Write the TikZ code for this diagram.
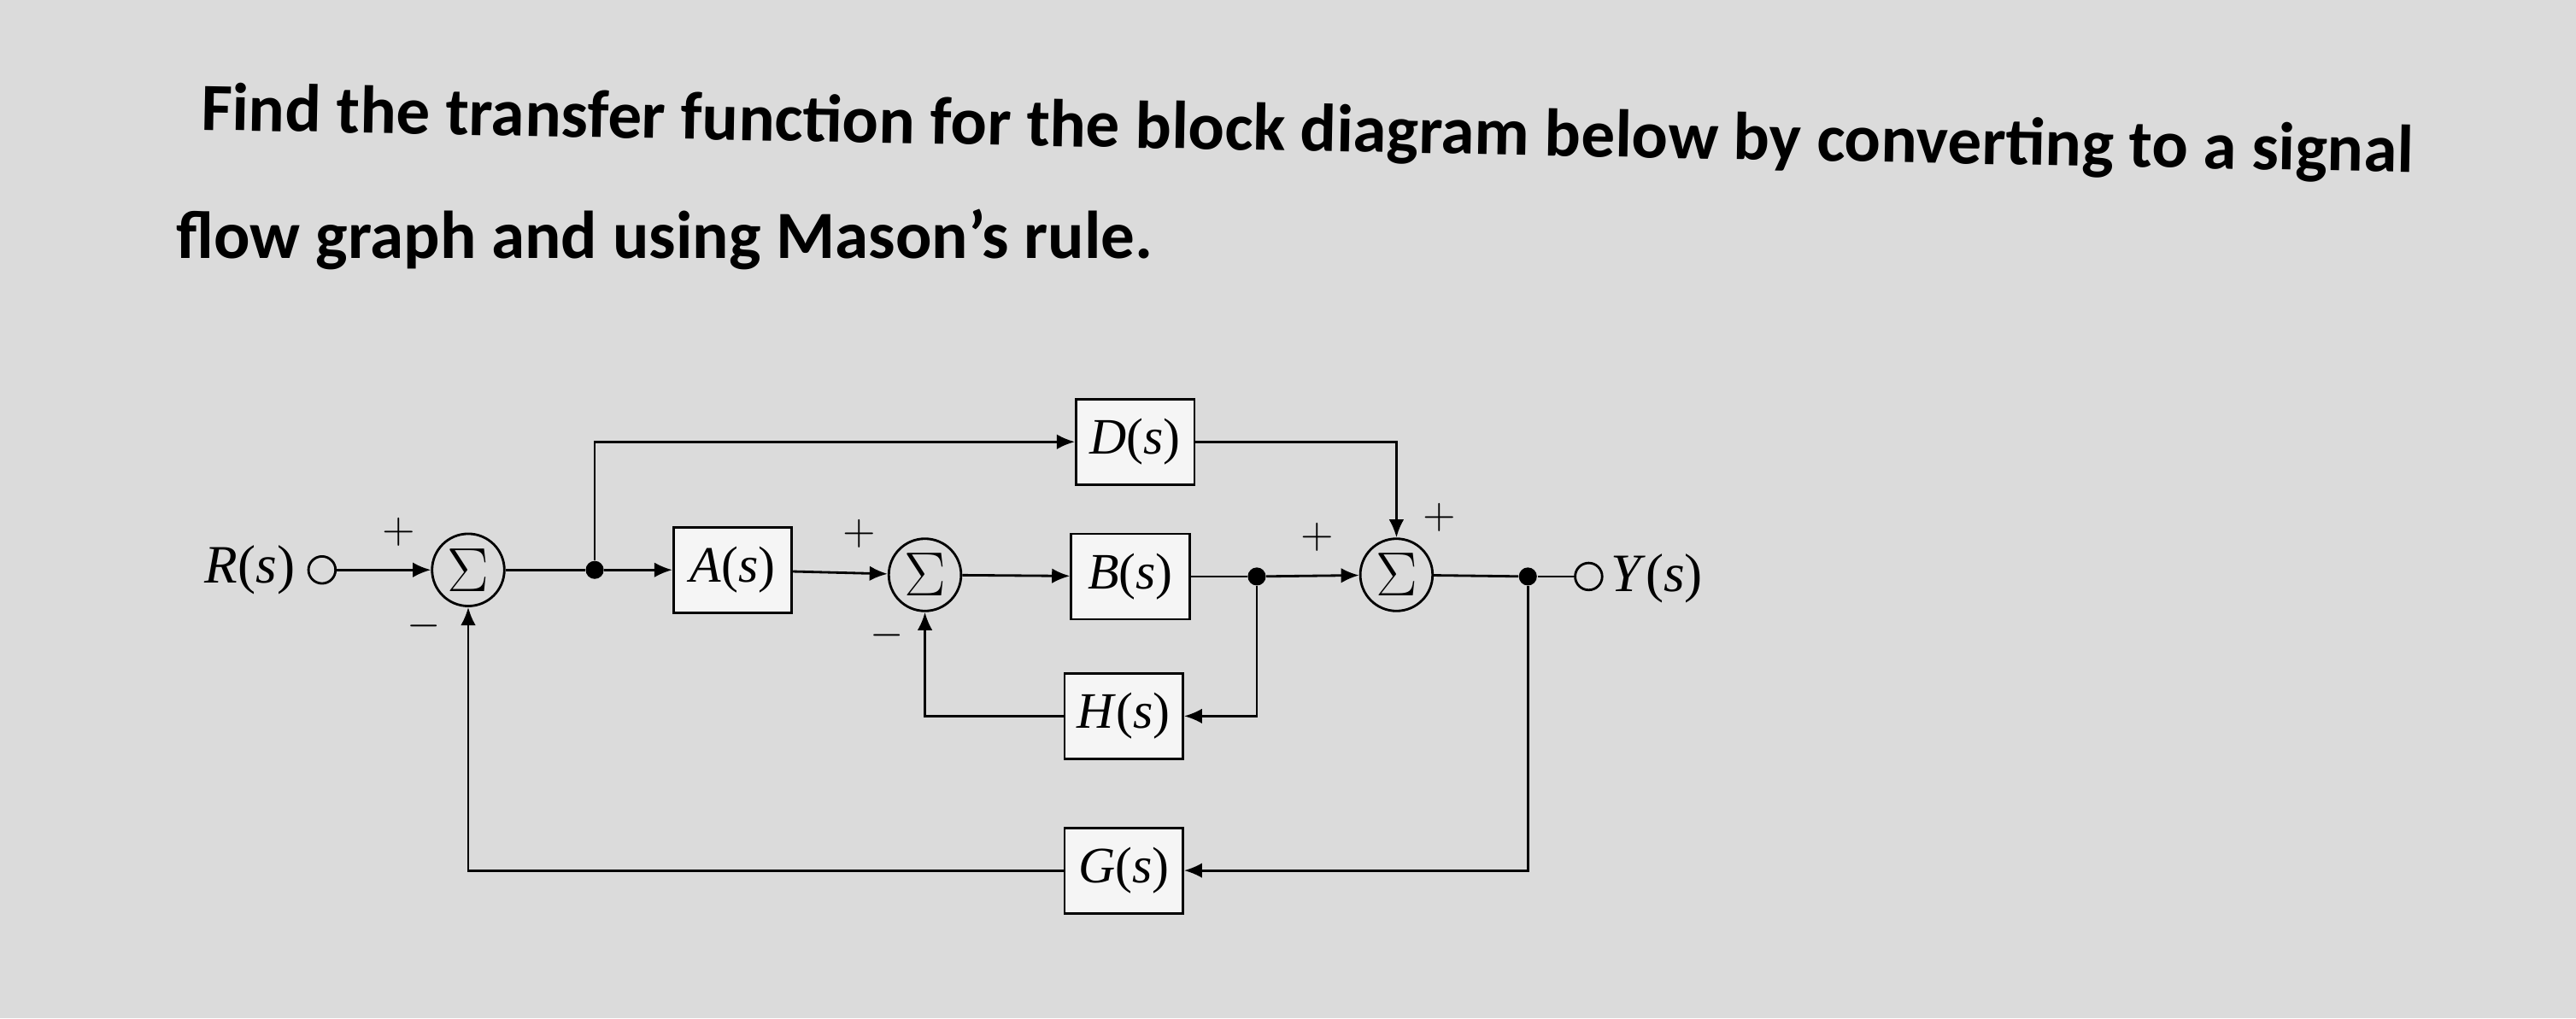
\documentclass[tikz,border=0pt]{standalone}
\usepackage{fontspec}
\setmainfont{Liberation Serif}
\newfontfamily\titlefont{Carlito}
\usetikzlibrary{arrows.meta}
\newcommand{\fn}[1]{\textit{#1}(\textit{s})}
\begin{document}
\begin{tikzpicture}[x=0.019228cm,y=-0.019228cm,
  blk/.style={draw,thick,fill=white!92!gray,minimum width=72*0.019228cm,minimum height=52*0.019228cm,inner sep=0pt,font=\fontsize{17}{18}\selectfont},
  sm/.style={draw,thick,circle,minimum size=44*0.019228cm,inner sep=0pt,font=\fontsize{21}{21}\selectfont},
  sg/.style={font=\fontsize{15}{16}\selectfont,inner sep=1pt},
  lab/.style={font=\fontsize{18}{18}\selectfont},
  dot/.style={circle,fill,inner sep=0pt,minimum size=6pt},
  odot/.style={circle,draw,thick,inner sep=0pt,minimum size=9pt},
  ar/.style={thick,-{Latex[length=6pt,width=5pt]}},
  ln/.style={thick}]
\useasboundingbox (0,0) rectangle (1568,620);
\fill[gray!28] (0,0) rectangle (1568,620);
\node[anchor=west,font=\titlefont\bfseries\fontsize{22.5}{24}\selectfont,rotate=-1.1] (t1) at (116,68) {Find the transfer function for the block diagram below by converting to a signal};
\node[anchor=west,font=\titlefont\bfseries\fontsize{22.5}{24}\selectfont] (t2) at (101,146) {flow graph and using Mason’s rule.};
% nodes
\node[lab,anchor=east] (R) at (186,347) {\fn{R}};
\node[odot] (ri) at (196,347) {};
\node[sm] (s1) at (285,347) {$\Sigma$};
\node[dot] (d1) at (362,347) {};
\node[blk] (A) at (446,347) {\fn{A}};
\node[sm] (s2) at (563,350) {$\Sigma$};
\node[blk] (B) at (688,351) {\fn{B}};
\node[dot] (d2) at (765,351) {};
\node[sm] (s3) at (850,350) {$\Sigma$};
\node[dot] (d3) at (930,351) {};
\node[odot] (yo) at (967,351) {};
\node[lab,anchor=west] (Y) at (974,352) {\fn{Y}};
\node[blk] (D) at (691,269) {\fn{D}};
\node[blk] (H) at (684,436) {\fn{H}};
\node[blk] (G) at (684,530) {\fn{G}};
% signs
\node[sg] (p1) at (243,324) {$+$};
\node[sg] (m1) at (258,381) {$-$};
\node[sg] (p2) at (523,325) {$+$};
\node[sg] (m2) at (540,387) {$-$};
\node[sg] (p3) at (802,327) {$+$};
\node[sg] (p4) at (876,315) {$+$};
% connectors
\draw[ar] (ri) -- (s1);
\draw[ln] (s1) -- (d1);
\draw[ar] (d1) -- (A);
\draw[ar] (d1) |- (D);
\draw[ar] (A) -- (s2);
\draw[ar] (s2) -- (B);
\draw[ln] (B) -- (d2);
\draw[ar] (d2) -- (s3);
\draw[ar] (D.east) -| (s3.north);
\draw[ar] (d2) |- (H.east);
\draw[ar] (H.west) -| (s2.south);
\draw[ln] (s3) -- (d3);
\draw[ln] (d3) -- (yo);
\draw[ar] (d3) |- (G.east);
\draw[ar] (G.west) -| (s1.south);
\end{tikzpicture}
\end{document}
